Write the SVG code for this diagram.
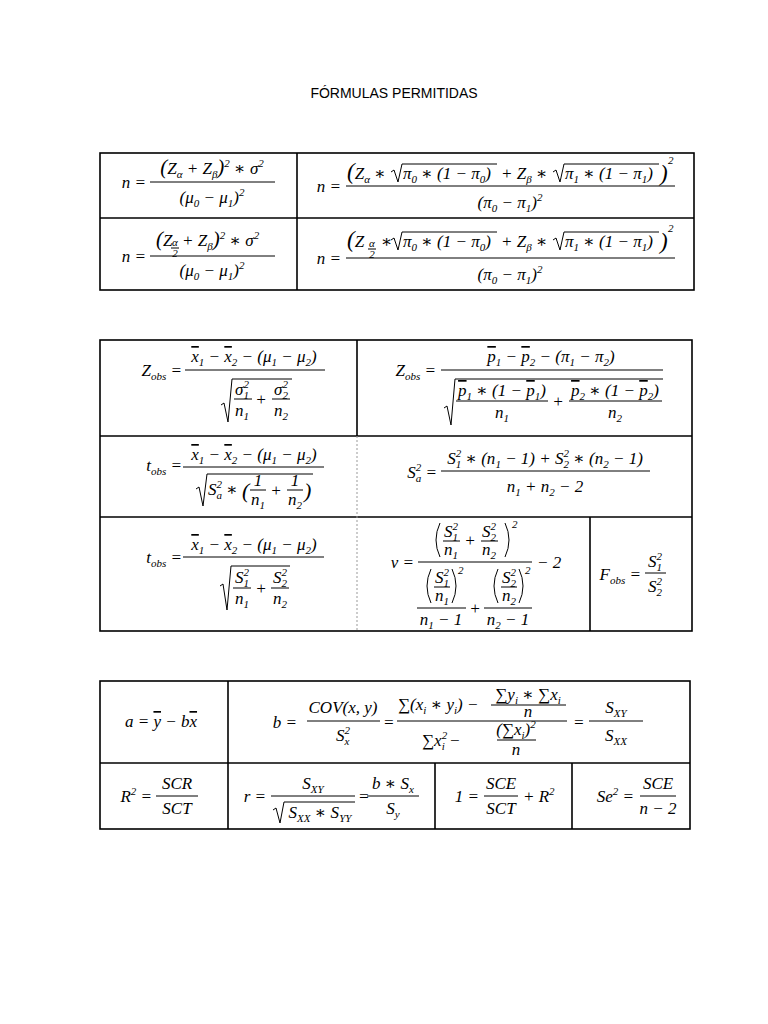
<svg xmlns="http://www.w3.org/2000/svg" width="768" height="1024" viewBox="0 0 768 1024">
<style>
.m{font-family:'Liberation Serif','DejaVu Serif',serif;font-size:17px;font-style:italic;fill:#000}
.c{text-anchor:middle}
.e{text-anchor:end}
.d{font-size:11px;baseline-shift:-4px}
.u{font-size:11px;baseline-shift:7px}
.sm{font-size:11px}
.o{text-decoration:overline}
.bar{stroke:#000;stroke-width:1}
.rad{stroke:#000;stroke-width:1;fill:none}
.tb{stroke:#000;stroke-width:1.6;fill:none}
.dot{stroke:#999;stroke-width:1;stroke-dasharray:2 2}
.title{font-family:'Liberation Sans',Arial,sans-serif;font-size:14px;text-anchor:middle}
</style>
<rect width="768" height="1024" fill="#fff"/>
<text class="title" x="394" y="98">FÓRMULAS PERMITIDAS</text>

<g id="tables">
<rect class="tb" x="100" y="153" width="594" height="137"/>
<line class="tb" x1="100" y1="218" x2="694" y2="218"/>
<line class="tb" x1="297" y1="153" x2="297" y2="290"/>
<rect class="tb" x="100" y="340" width="592" height="291"/>
<line class="tb" x1="100" y1="436" x2="692" y2="436"/>
<line class="tb" x1="100" y1="517" x2="692" y2="517"/>
<line class="tb" x1="357" y1="340" x2="357" y2="436"/>
<line class="dot" x1="357" y1="436" x2="357" y2="631"/>
<line class="tb" x1="590" y1="517" x2="590" y2="631"/>
<rect class="tb" x="100" y="681" width="590" height="148"/>
<line class="tb" x1="100" y1="763" x2="690" y2="763"/>
<line class="tb" x1="228" y1="681" x2="228" y2="829"/>
<line class="tb" x1="435" y1="763" x2="435" y2="829"/>
<line class="tb" x1="572" y1="763" x2="572" y2="829"/>
</g>

<g id="n1">
<text class="m e" x="146" y="188">n =</text>
<text class="m c" x="212" y="174"><tspan font-size="21">(</tspan>Z<tspan class="d">α</tspan> + Z<tspan class="d">β</tspan><tspan font-size="21">)</tspan><tspan class="u">2</tspan> ∗ σ<tspan class="u">2</tspan></text>
<line class="bar" x1="150" y1="182" x2="275" y2="182"/>
<text class="m c" x="212" y="203">(μ<tspan class="d">0</tspan> − μ<tspan class="d">1</tspan>)<tspan class="u">2</tspan></text>
</g>

<g id="n2">
<text class="m e" x="341" y="192">n =</text>
<text class="m" x="347" y="179"><tspan font-size="23">(</tspan>Z<tspan class="d">α</tspan> ∗</text>
<path class="rad" d="M391,172 L394,170 L398,182 L402,164 L497,164"/>
<text class="m" x="403" y="179">π<tspan class="d">0</tspan> ∗ (1 − π<tspan class="d">0</tspan>)</text>
<text class="m" x="501" y="179">+ Z<tspan class="d">β</tspan> ∗</text>
<path class="rad" d="M553,172 L556,170 L560,182 L564,164 L659,164"/>
<text class="m" x="565" y="179">π<tspan class="d">1</tspan> ∗ (1 − π<tspan class="d">1</tspan>)</text>
<text class="m" x="660" y="181"><tspan font-size="23">)</tspan></text>
<text class="m sm" x="668" y="164">2</text>
<line class="bar" x1="346" y1="186" x2="675" y2="186"/>
<text class="m c" x="510" y="208">(π<tspan class="d">0</tspan> − π<tspan class="d">1</tspan>)<tspan class="u">2</tspan></text>
</g>

<g id="n3">
<text class="m e" x="146" y="262">n =</text>
<text class="m" x="156" y="246"><tspan font-size="21">(</tspan>Z</text>
<text class="m sm c" x="175" y="246">α</text>
<line class="bar" x1="171" y1="248" x2="179" y2="248"/>
<text class="m sm c" x="175" y="257">2</text>
<text class="m" x="182" y="246">+ Z<tspan class="d">β</tspan><tspan font-size="21">)</tspan><tspan class="u">2</tspan> ∗ σ<tspan class="u">2</tspan></text>
<line class="bar" x1="150" y1="256" x2="275" y2="256"/>
<text class="m c" x="212" y="276">(μ<tspan class="d">0</tspan> − μ<tspan class="d">1</tspan>)<tspan class="u">2</tspan></text>
</g>

<g id="n4">
<text class="m e" x="341" y="264">n =</text>
<text class="m" x="347" y="247"><tspan font-size="23">(</tspan>Z</text>
<text class="m sm c" x="372" y="247">α</text>
<line class="bar" x1="368" y1="249" x2="376" y2="249"/>
<text class="m sm c" x="372" y="258">2</text>
<text class="m" x="381" y="247">∗</text>
<path class="rad" d="M391,240 L394,238 L398,250 L402,232 L497,232"/>
<text class="m" x="403" y="247">π<tspan class="d">0</tspan> ∗ (1 − π<tspan class="d">0</tspan>)</text>
<text class="m" x="501" y="247">+ Z<tspan class="d">β</tspan> ∗</text>
<path class="rad" d="M553,240 L556,238 L560,250 L564,232 L659,232"/>
<text class="m" x="565" y="247">π<tspan class="d">1</tspan> ∗ (1 − π<tspan class="d">1</tspan>)</text>
<text class="m" x="660" y="249"><tspan font-size="23">)</tspan></text>
<text class="m sm" x="668" y="232">2</text>
<line class="bar" x1="346" y1="258" x2="675" y2="258"/>
<text class="m c" x="510" y="280">(π<tspan class="d">0</tspan> − π<tspan class="d">1</tspan>)<tspan class="u">2</tspan></text>
</g>

<g id="z1">
<text class="m e" x="182" y="376">Z<tspan class="d">obs</tspan> =</text>
<text class="m c" x="254" y="362"><tspan class="o">x</tspan><tspan class="d">1</tspan> − <tspan class="o">x</tspan><tspan class="d">2</tspan> − (μ<tspan class="d">1</tspan> − μ<tspan class="d">2</tspan>)</text>
<line class="bar" x1="185" y1="370" x2="325" y2="370"/>
<path class="rad" d="M221,405 L224,403 L228,422 L232,379 L292,379"/>
<text class="m c" x="242" y="395">σ<tspan class="u">2</tspan><tspan class="d" dx="-5.5">1</tspan></text>
<line class="bar" x1="234" y1="399" x2="252" y2="399"/>
<text class="m c" x="242" y="416">n<tspan class="d">1</tspan></text>
<text class="m c" x="261" y="405">+</text>
<text class="m c" x="281" y="395">σ<tspan class="u">2</tspan><tspan class="d" dx="-5.5">2</tspan></text>
<line class="bar" x1="272" y1="399" x2="290" y2="399"/>
<text class="m c" x="281" y="416">n<tspan class="d">2</tspan></text>
</g>

<g id="z2">
<text class="m e" x="436" y="376">Z<tspan class="d">obs</tspan> =</text>
<text class="m c" x="551" y="362"><tspan class="o">p</tspan><tspan class="d">1</tspan> − <tspan class="o">p</tspan><tspan class="d">2</tspan> − (π<tspan class="d">1</tspan> − π<tspan class="d">2</tspan>)</text>
<line class="bar" x1="441" y1="370" x2="663" y2="370"/>
<path class="rad" d="M444,408 L447,406 L451,425 L455,379 L663,379"/>
<text class="m c" x="502" y="396"><tspan class="o">p</tspan><tspan class="d">1</tspan> ∗ (1 − <tspan class="o">p</tspan><tspan class="d">1</tspan>)</text>
<line class="bar" x1="456" y1="401" x2="548" y2="401"/>
<text class="m c" x="502" y="418">n<tspan class="d">1</tspan></text>
<text class="m c" x="558" y="407">+</text>
<text class="m c" x="615" y="396"><tspan class="o">p</tspan><tspan class="d">2</tspan> ∗ (1 − <tspan class="o">p</tspan><tspan class="d">2</tspan>)</text>
<line class="bar" x1="569" y1="401" x2="662" y2="401"/>
<text class="m c" x="615" y="418">n<tspan class="d">2</tspan></text>
</g>

<g id="t1">
<text class="m e" x="182" y="471">t<tspan class="d">obs</tspan> =</text>
<text class="m c" x="254" y="460"><tspan class="o">x</tspan><tspan class="d">1</tspan> − <tspan class="o">x</tspan><tspan class="d">2</tspan> − (μ<tspan class="d">1</tspan> − μ<tspan class="d">2</tspan>)</text>
<line class="bar" x1="183" y1="467" x2="324" y2="467"/>
<path class="rad" d="M196,489 L199,487 L203,506 L207,474 L313,474"/>
<text class="m" x="208" y="495">S<tspan class="u">2</tspan><tspan class="d" dx="-5.5">a</tspan> ∗</text>
<text class="m" x="242" y="498"><tspan font-size="22">(</tspan></text>
<text class="m c" x="258" y="486">1</text>
<line class="bar" x1="250" y1="490" x2="266" y2="490"/>
<text class="m c" x="258" y="505">n<tspan class="d">1</tspan></text>
<text class="m c" x="276" y="496">+</text>
<text class="m c" x="295" y="486">1</text>
<text class="m c" x="295" y="505">n<tspan class="d">2</tspan></text>
<line class="bar" x1="287" y1="490" x2="303" y2="490"/>
<text class="m" x="304" y="498"><tspan font-size="22">)</tspan></text>
</g>

<g id="sa">
<text class="m e" x="437" y="478">S<tspan class="u">2</tspan><tspan class="d" dx="-5.5">a</tspan> =</text>
<text class="m c" x="545" y="464">S<tspan class="u">2</tspan><tspan class="d" dx="-5.5">1</tspan> ∗ (n<tspan class="d">1</tspan> − 1) + S<tspan class="u">2</tspan><tspan class="d" dx="-5.5">2</tspan> ∗ (n<tspan class="d">2</tspan> − 1)</text>
<line class="bar" x1="441" y1="471" x2="650" y2="471"/>
<text class="m c" x="545" y="492">n<tspan class="d">1</tspan> + n<tspan class="d">2</tspan> − 2</text>
</g>

<g id="t2">
<text class="m e" x="182" y="563">t<tspan class="d">obs</tspan> =</text>
<text class="m c" x="254" y="550"><tspan class="o">x</tspan><tspan class="d">1</tspan> − <tspan class="o">x</tspan><tspan class="d">2</tspan> − (μ<tspan class="d">1</tspan> − μ<tspan class="d">2</tspan>)</text>
<line class="bar" x1="183" y1="557" x2="324" y2="557"/>
<path class="rad" d="M220,586 L223,584 L227,610 L231,566 L290,566"/>
<text class="m c" x="242" y="583">S<tspan class="u">2</tspan><tspan class="d" dx="-5.5">1</tspan></text>
<line class="bar" x1="233" y1="588" x2="251" y2="588"/>
<text class="m c" x="242" y="604">n<tspan class="d">1</tspan></text>
<text class="m c" x="261" y="594">+</text>
<text class="m c" x="280" y="583">S<tspan class="u">2</tspan><tspan class="d" dx="-5.5">2</tspan></text>
<line class="bar" x1="271" y1="588" x2="289" y2="588"/>
<text class="m c" x="280" y="604">n<tspan class="d">2</tspan></text>
</g>

<g id="v">
<text class="m e" x="414" y="568">v =</text>
<line class="bar" x1="418" y1="562" x2="532" y2="562"/>
<text class="m" x="537" y="568">− 2</text>
<path class="rad" d="M440,523 Q432,540 440,557"/>
<path class="rad" d="M505,523 Q513,540 505,557"/>
<text class="m sm" x="512" y="528">2</text>
<text class="m c" x="451" y="537">S<tspan class="u">2</tspan><tspan class="d" dx="-5.5">1</tspan></text>
<line class="bar" x1="443" y1="541" x2="460" y2="541"/>
<text class="m c" x="451" y="555">n<tspan class="d">1</tspan></text>
<text class="m c" x="470" y="546">+</text>
<text class="m c" x="489" y="537">S<tspan class="u">2</tspan><tspan class="d" dx="-5.5">2</tspan></text>
<line class="bar" x1="481" y1="541" x2="498" y2="541"/>
<text class="m c" x="489" y="555">n<tspan class="d">2</tspan></text>
<path class="rad" d="M431,569 Q423,586 431,603"/>
<path class="rad" d="M452,569 Q460,586 452,603"/>
<text class="m sm" x="458" y="574">2</text>
<text class="m c" x="442" y="583">S<tspan class="u">2</tspan><tspan class="d" dx="-5.5">1</tspan></text>
<line class="bar" x1="434" y1="587" x2="450" y2="587"/>
<text class="m c" x="442" y="601">n<tspan class="d">1</tspan></text>
<line class="bar" x1="417" y1="608" x2="466" y2="608"/>
<text class="m c" x="441" y="625">n<tspan class="d">1</tspan> − 1</text>
<text class="m c" x="475" y="614">+</text>
<path class="rad" d="M498,569 Q490,586 498,603"/>
<path class="rad" d="M519,569 Q527,586 519,603"/>
<text class="m sm" x="525" y="574">2</text>
<text class="m c" x="509" y="583">S<tspan class="u">2</tspan><tspan class="d" dx="-5.5">2</tspan></text>
<line class="bar" x1="501" y1="587" x2="517" y2="587"/>
<text class="m c" x="509" y="601">n<tspan class="d">2</tspan></text>
<line class="bar" x1="484" y1="608" x2="532" y2="608"/>
<text class="m c" x="508" y="625">n<tspan class="d">2</tspan> − 1</text>
</g>

<g id="f">
<text class="m e" x="641" y="580">F<tspan class="d">obs</tspan> =</text>
<text class="m c" x="655" y="567">S<tspan class="u">2</tspan><tspan class="d" dx="-5.5">1</tspan></text>
<line class="bar" x1="645" y1="573" x2="666" y2="573"/>
<text class="m c" x="655" y="592">S<tspan class="u">2</tspan><tspan class="d" dx="-5.5">2</tspan></text>
</g>

<g id="a">
<text class="m c" x="161" y="727">a = <tspan class="o">y</tspan> − b<tspan class="o">x</tspan></text>
</g>

<g id="b">
<text class="m e" x="297" y="728">b =</text>
<text class="m c" x="343" y="713">COV(x, y)</text>
<line class="bar" x1="307" y1="721" x2="380" y2="721"/>
<text class="m c" x="343" y="741">S<tspan class="u">2</tspan><tspan class="d" dx="-5.5">x</tspan></text>
<text class="m" x="383" y="728">=</text>
<text class="m" x="398" y="710">∑(x<tspan class="d">i</tspan> ∗ y<tspan class="d">i</tspan>) −</text>
<text class="m c" x="528" y="700">∑y<tspan class="d">i</tspan> ∗ ∑x<tspan class="d">i</tspan></text>
<line class="bar" x1="491" y1="705" x2="566" y2="705"/>
<text class="m c" x="528" y="717">n</text>
<line class="bar" x1="397" y1="721" x2="567" y2="721"/>
<text class="m" x="422" y="746">∑x<tspan class="u">2</tspan><tspan class="d" dx="-5.5">i</tspan> −</text>
<text class="m c" x="516" y="735">(∑x<tspan class="d">i</tspan>)<tspan class="u">2</tspan></text>
<line class="bar" x1="497" y1="740" x2="536" y2="740"/>
<text class="m c" x="516" y="755">n</text>
<text class="m" x="573" y="728">=</text>
<text class="m c" x="616" y="713">S<tspan class="d">XY</tspan></text>
<line class="bar" x1="589" y1="721" x2="643" y2="721"/>
<text class="m c" x="616" y="741">S<tspan class="d">XX</tspan></text>
</g>

<g id="r2">
<text class="m e" x="152" y="802">R<tspan class="u">2</tspan> =</text>
<text class="m c" x="177" y="789">SCR</text>
<line class="bar" x1="156" y1="796" x2="198" y2="796"/>
<text class="m c" x="177" y="814">SCT</text>
</g>

<g id="r">
<text class="m e" x="266" y="802">r =</text>
<text class="m c" x="313" y="789">S<tspan class="d">XY</tspan></text>
<line class="bar" x1="271" y1="796" x2="355" y2="796"/>
<path class="rad" d="M273,810 L276,808 L280,823 L284,802 L355,802"/>
<text class="m c" x="320" y="818">S<tspan class="d">XX</tspan> ∗ S<tspan class="d">YY</tspan></text>
<text class="m" x="358" y="802">=</text>
<text class="m c" x="393" y="789">b ∗ S<tspan class="d">x</tspan></text>
<line class="bar" x1="367" y1="796" x2="419" y2="796"/>
<text class="m c" x="393" y="814">S<tspan class="d">y</tspan></text>
</g>

<g id="one">
<text class="m e" x="479" y="802">1 =</text>
<text class="m c" x="501" y="789">SCE</text>
<line class="bar" x1="484" y1="796" x2="518" y2="796"/>
<text class="m c" x="501" y="814">SCT</text>
<text class="m" x="523" y="802">+ R<tspan class="u">2</tspan></text>
</g>

<g id="se">
<text class="m e" x="634" y="802">Se<tspan class="u">2</tspan> =</text>
<text class="m c" x="658" y="789">SCE</text>
<line class="bar" x1="640" y1="796" x2="676" y2="796"/>
<text class="m c" x="658" y="814">n − 2</text>
</g>

<g id="connectors"/>
</svg>
